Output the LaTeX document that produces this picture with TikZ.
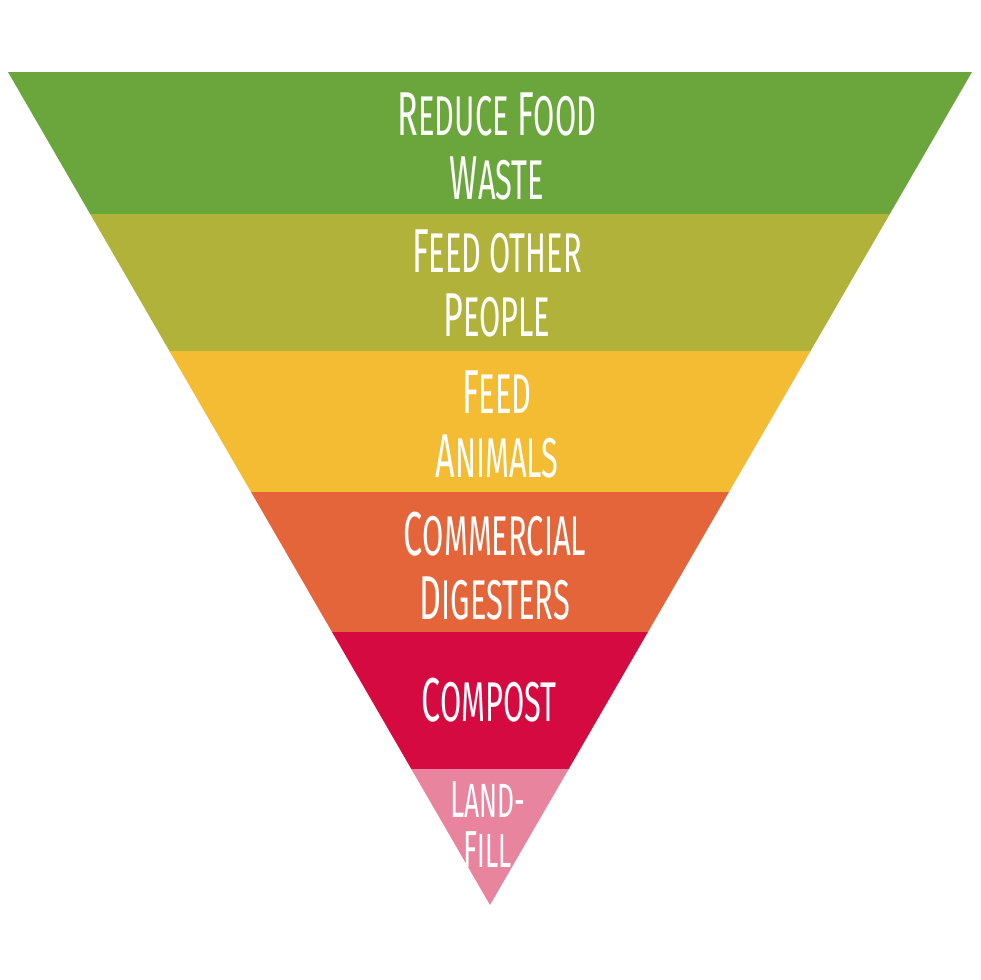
\documentclass[tikz,border=0pt]{standalone}
\usepackage{fontspec}
\newfontfamily\hand[FakeStretch=0.55]{Fira Sans}
\definecolor{cA}{HTML}{6BA63C}
\definecolor{cB}{HTML}{B0B23A}
\definecolor{cC}{HTML}{F4BC33}
\definecolor{cD}{HTML}{E5653A}
\definecolor{cE}{HTML}{D50A40}
\definecolor{cF}{HTML}{E9849F}
\newcommand\initL[1]{{\fontsize{62}{64}\selectfont #1}}
\newcommand\initS[1]{{\fontsize{52}{50}\selectfont #1}}
\tikzset{
  lbl/.style={text=white, align=center, inner sep=0pt,
    font=\hand\fontsize{56}{64}\selectfont},
  lblS/.style={text=white, align=center, inner sep=0pt,
    font=\hand\fontsize{48}{50}\selectfont},
}
\begin{document}
\begin{tikzpicture}[x=1pt,y=-1pt]
\useasboundingbox (0,0) rectangle (980,980);
\coordinate (tl) at (8,72);
\coordinate (tr) at (972,72);
\coordinate (ap) at (490,905);
\foreach \ya/\yb/\c in {72/214/cA,214/351/cB,351/492/cC,492/632/cD,632/769/cE}{
  \fill[\c] ({8+(\ya-72)/833*482},\ya) -- ({972-(\ya-72)/833*482},\ya)
     -- ({972-(\yb-72)/833*482},\yb) -- ({8+(\yb-72)/833*482},\yb) -- cycle;
}
\fill[cF] ({8+(769-72)/833*482},769) -- ({972-(769-72)/833*482},769) -- (ap) -- cycle;
\node[lbl] (t1) at (497,146) {\initL{R}EDUCE \initL{F}OOD\\\initL{W}ASTE};
\node[lbl] (t2) at (497,283) {\initL{F}EED OTHER\\\initL{P}EOPLE};
\node[lbl] (t3) at (497,424) {\initL{F}EED\\\initL{A}NIMALS};
\node[lbl] (t4) at (495,566) {\initL{C}OMMERCIAL\\\initL{D}IGESTERS};
\node[lbl] (t5) at (489,700) {\initL{C}OMPOST};
\node[lblS] (t6) at (488,825) {\initS{L}AND-\\\initS{F}ILL};
\end{tikzpicture}
\end{document}
